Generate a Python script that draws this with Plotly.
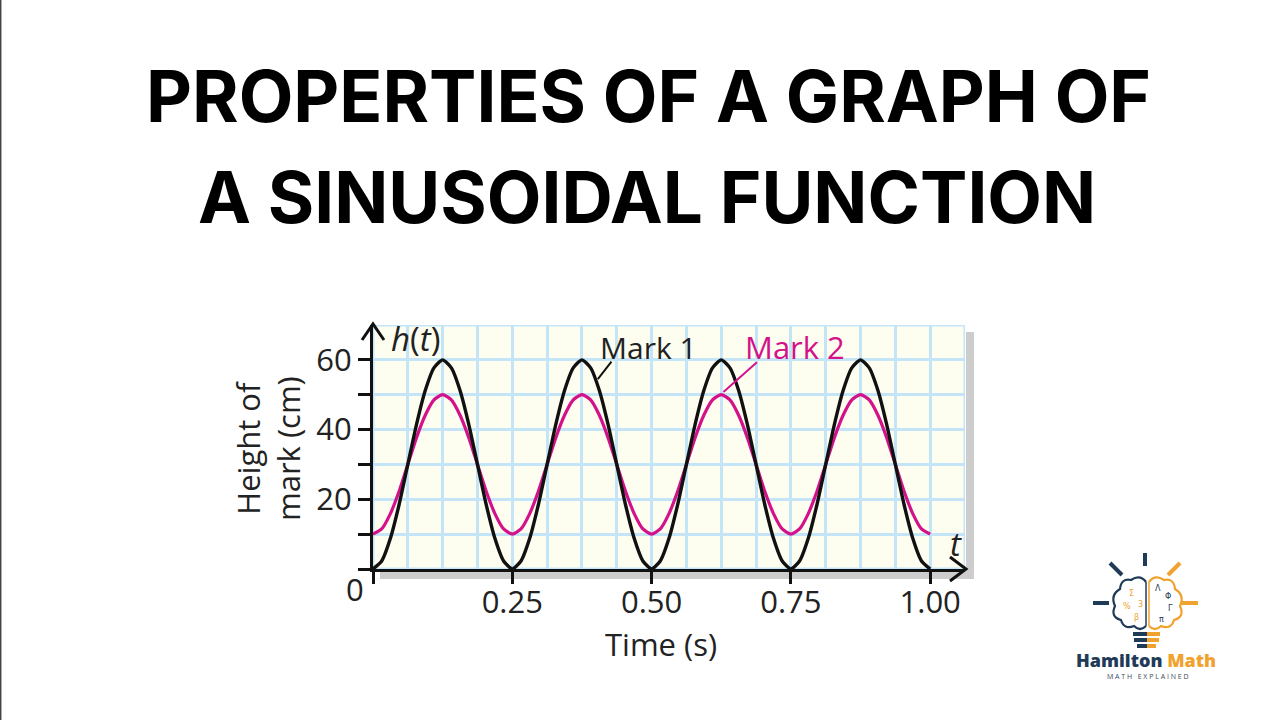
import plotly.graph_objects as go

# ---------------- data ----------------
time_s = [i / 64 for i in range(65)]
mark1_cm = [0, 2.3, 8.8, 18.5, 30, 41.5, 51.2, 57.7, 60, 57.7, 51.2, 41.5, 30, 18.5, 8.8, 2.3,
            0, 2.3, 8.8, 18.5, 30, 41.5, 51.2, 57.7, 60, 57.7, 51.2, 41.5, 30, 18.5, 8.8, 2.3,
            0, 2.3, 8.8, 18.5, 30, 41.5, 51.2, 57.7, 60, 57.7, 51.2, 41.5, 30, 18.5, 8.8, 2.3,
            0, 2.3, 8.8, 18.5, 30, 41.5, 51.2, 57.7, 60, 57.7, 51.2, 41.5, 30, 18.5, 8.8, 2.3,
            0]
mark2_cm = [10, 11.5, 15.9, 22.3, 30, 37.7, 44.1, 48.5, 50, 48.5, 44.1, 37.7, 30, 22.3, 15.9, 11.5,
            10, 11.5, 15.9, 22.3, 30, 37.7, 44.1, 48.5, 50, 48.5, 44.1, 37.7, 30, 22.3, 15.9, 11.5,
            10, 11.5, 15.9, 22.3, 30, 37.7, 44.1, 48.5, 50, 48.5, 44.1, 37.7, 30, 22.3, 15.9, 11.5,
            10, 11.5, 15.9, 22.3, 30, 37.7, 44.1, 48.5, 50, 48.5, 44.1, 37.7, 30, 22.3, 15.9, 11.5,
            10]
x_tickvals = [0, 0.25, 0.5, 0.75, 1.0]
x_ticktext = ["", "0.25", "0.50", "0.75", "1.00"]
y_tickvals = [0, 10, 20, 30, 40, 50, 60]
y_ticktext = ["", "", "20", "", "40", "", "60"]

W, H = 1280, 720
def px(x):
    return x / W
def py(y):
    return 1 - y / H

FONT = "Open Sans"
BLACK = "#111111"
MAGENTA = "#d3118a"
GRID = "#c4e5f7"
NAVY = "#1f3b57"
ORANGE = "#f0a12e"

fig = go.Figure()
fig.add_trace(go.Scatter(x=time_s, y=mark2_cm, mode="lines",
                         line=dict(color=MAGENTA, width=3.2, shape="spline", smoothing=0.6),
                         name="Mark 2", hoverinfo="skip"))
fig.add_trace(go.Scatter(x=time_s, y=mark1_cm, mode="lines",
                         line=dict(color=BLACK, width=3.4, shape="spline", smoothing=0.6),
                         name="Mark 1", hoverinfo="skip"))

axis_font = dict(family=FONT, size=31, color="#222222")
fig.update_layout(
    width=W, height=H, margin=dict(l=0, r=0, t=0, b=0),
    paper_bgcolor="white", plot_bgcolor="#fefef0", showlegend=False,
    xaxis=dict(domain=[px(373), px(965)], range=[0, 1.0625],
               tickmode="array", tickvals=x_tickvals, ticktext=x_ticktext,
               ticks="outside", ticklen=12, tickwidth=2.5, tickcolor=BLACK,
               ticklabelstandoff=-8,
               showline=True, linecolor=BLACK, linewidth=3,
               showgrid=True, gridcolor=GRID, gridwidth=3, zeroline=False,
               minor=dict(tickmode="linear", tick0=0, dtick=0.0625, showgrid=True,
                          gridcolor=GRID, gridwidth=3, ticks=""),
               tickfont=axis_font, fixedrange=True),
    yaxis=dict(domain=[py(569), py(325)], range=[0, 70],
               tickmode="array", tickvals=y_tickvals, ticktext=y_ticktext,
               ticks="outside", ticklen=12, tickwidth=2.5, tickcolor=BLACK,
               showline=True, linecolor=BLACK, linewidth=3,
               showgrid=True, gridcolor=GRID, gridwidth=3, zeroline=False,
               tickfont=axis_font, fixedrange=True),
)

shapes = []
# grid border (top / right)
shapes.append(dict(type="rect", xref="x", yref="y", x0=0, x1=1.0625, y0=0, y1=70,
                   line=dict(color=GRID, width=3), layer="below"))
# drop shadow
shapes.append(dict(type="rect", xref="paper", yref="paper", x0=px(966), x1=px(974),
                   y0=py(579), y1=py(332), fillcolor="#cdcdcd", line=dict(width=0), layer="below"))
shapes.append(dict(type="rect", xref="paper", yref="paper", x0=px(380), x1=px(974),
                   y0=py(579), y1=py(571), fillcolor="#cdcdcd", line=dict(width=0), layer="below"))
# axis arrow heads
shapes.append(dict(type="path", xref="paper", yref="paper",
                   path=f"M {px(950)} {py(557)} L {px(966)} {py(569)} L {px(950)} {py(581)}",
                   line=dict(color=BLACK, width=3)))
shapes.append(dict(type="path", xref="paper", yref="paper",
                   path=f"M {px(362)} {py(340)} L {px(373)} {py(324)} L {px(384)} {py(340)}",
                   line=dict(color=BLACK, width=3)))
# leader lines
shapes.append(dict(type="line", xref="x", yref="y", x0=0.4035, y0=54.5, x1=0.428, y1=59.5,
                   line=dict(color=BLACK, width=2)))
shapes.append(dict(type="line", xref="x", yref="y", x0=0.629, y0=50.8, x1=0.689, y1=59.3,
                   line=dict(color=MAGENTA, width=2)))
# left border of the image
shapes.append(dict(type="line", xref="paper", yref="paper", x0=px(0.7), x1=px(0.7), y0=0, y1=1,
                   line=dict(color="#444444", width=1.5)))

# ---------------- logo ----------------
rays = [((1145, 553), (1145, 566), NAVY), ((1110, 563), (1122, 575), NAVY),
        ((1093, 603), (1109, 603), NAVY), ((1168, 575), (1180, 563), ORANGE),
        ((1182, 603), (1198, 603), ORANGE)]
for (x0, y0), (x1, y1), c in rays:
    shapes.append(dict(type="line", xref="paper", yref="paper", x0=px(x0), y0=py(y0),
                       x1=px(x1), y1=py(y1), line=dict(color=c, width=4)))

def bz(pts):
    s = f"M {px(pts[0][0])} {py(pts[0][1])}"
    for i in range(1, len(pts) - 1, 2):
        c, e = pts[i], pts[i + 1]
        s += f" Q {px(c[0])} {py(c[1])} {px(e[0])} {py(e[1])}"
    return s

left_brain = [(1146, 582), (1140, 574), (1131, 580), (1121, 578), (1120, 589),
              (1110, 595), (1115, 606), (1110, 617), (1121, 620), (1124, 630),
              (1134, 626), (1140, 632), (1146, 626)]
right_brain = [(1149, 582), (1155, 574), (1164, 580), (1174, 578), (1175, 589),
               (1185, 595), (1180, 606), (1185, 617), (1174, 620), (1171, 630),
               (1161, 626), (1155, 632), (1149, 626)]
shapes.append(dict(type="path", xref="paper", yref="paper", path=bz(left_brain),
                   line=dict(color=NAVY, width=2.2)))
shapes.append(dict(type="path", xref="paper", yref="paper", path=bz(right_brain),
                   line=dict(color=ORANGE, width=2.2)))
shapes.append(dict(type="line", xref="paper", yref="paper", x0=px(1146), x1=px(1146),
                   y0=py(582), y1=py(626), line=dict(color=NAVY, width=1.5)))
shapes.append(dict(type="line", xref="paper", yref="paper", x0=px(1149), x1=px(1149),
                   y0=py(582), y1=py(626), line=dict(color=ORANGE, width=1.5)))
for yy, xa, xb in [(634, 1133, 1160), (640, 1134, 1159), (646, 1137, 1156)]:
    shapes.append(dict(type="line", xref="paper", yref="paper", x0=px(xa), x1=px(1147),
                       y0=py(yy), y1=py(yy), line=dict(color=NAVY, width=4)))
    shapes.append(dict(type="line", xref="paper", yref="paper", x0=px(1147), x1=px(xb),
                       y0=py(yy), y1=py(yy), line=dict(color=ORANGE, width=4)))
fig.update_layout(shapes=shapes)

ann = []
def text(x, y, s, size, color=BLACK, family=FONT, angle=0, xanchor="center", weight=None):
    f = dict(family=family, size=size, color=color)
    if weight:
        f["weight"] = weight
    ann.append(dict(x=px(x), y=py(y), xref="paper", yref="paper", text=s, showarrow=False,
                    font=f, textangle=angle, xanchor=xanchor, yanchor="middle"))

text(648, 96, "PROPERTIES OF A GRAPH OF", 71, "#000000", "Inter", weight=700)
text(647, 197, "A SINUSOIDAL FUNCTION", 71, "#000000", "Inter", weight=700)
text(415, 338, "<i>h</i>(<i>t</i>)", 33, "#222222")
text(956, 543, "<i>t</i>", 33, "#222222")
text(355, 589, "0", 31, "#222222")
text(648, 347, "Mark 1", 30, "#222222")
text(795, 347, "Mark 2", 31, MAGENTA)
text(661, 644, "Time (s)", 31, "#222222")
text(268, 449, "Height of<br>mark (cm)", 31, "#222222", angle=-90)

# logo glyphs and text
for gx, gy, g, c in [(1131, 593, "Σ", ORANGE), (1127, 606, "%", ORANGE), (1136, 617, "β", ORANGE),
                     (1140, 604, "3", ORANGE), (1158, 588, "Λ", NAVY), (1168, 596, "Φ", NAVY),
                     (1170, 608, "Γ", NAVY), (1161, 619, "π", NAVY)]:
    text(gx, gy, g, 8, c, "DejaVu Sans")
text(1146, 660, "<span style='color:#1f3b57'>Hamilton</span> <span style='color:#f0a12e'>Math</span>",
     18, NAVY, "Open Sans", weight=800)
text(1148, 676, "M A T H   E X P L A I N E D", 7, "#3a4a5a", "Open Sans")

fig.update_layout(annotations=ann)
fig.write_html("out.html")
